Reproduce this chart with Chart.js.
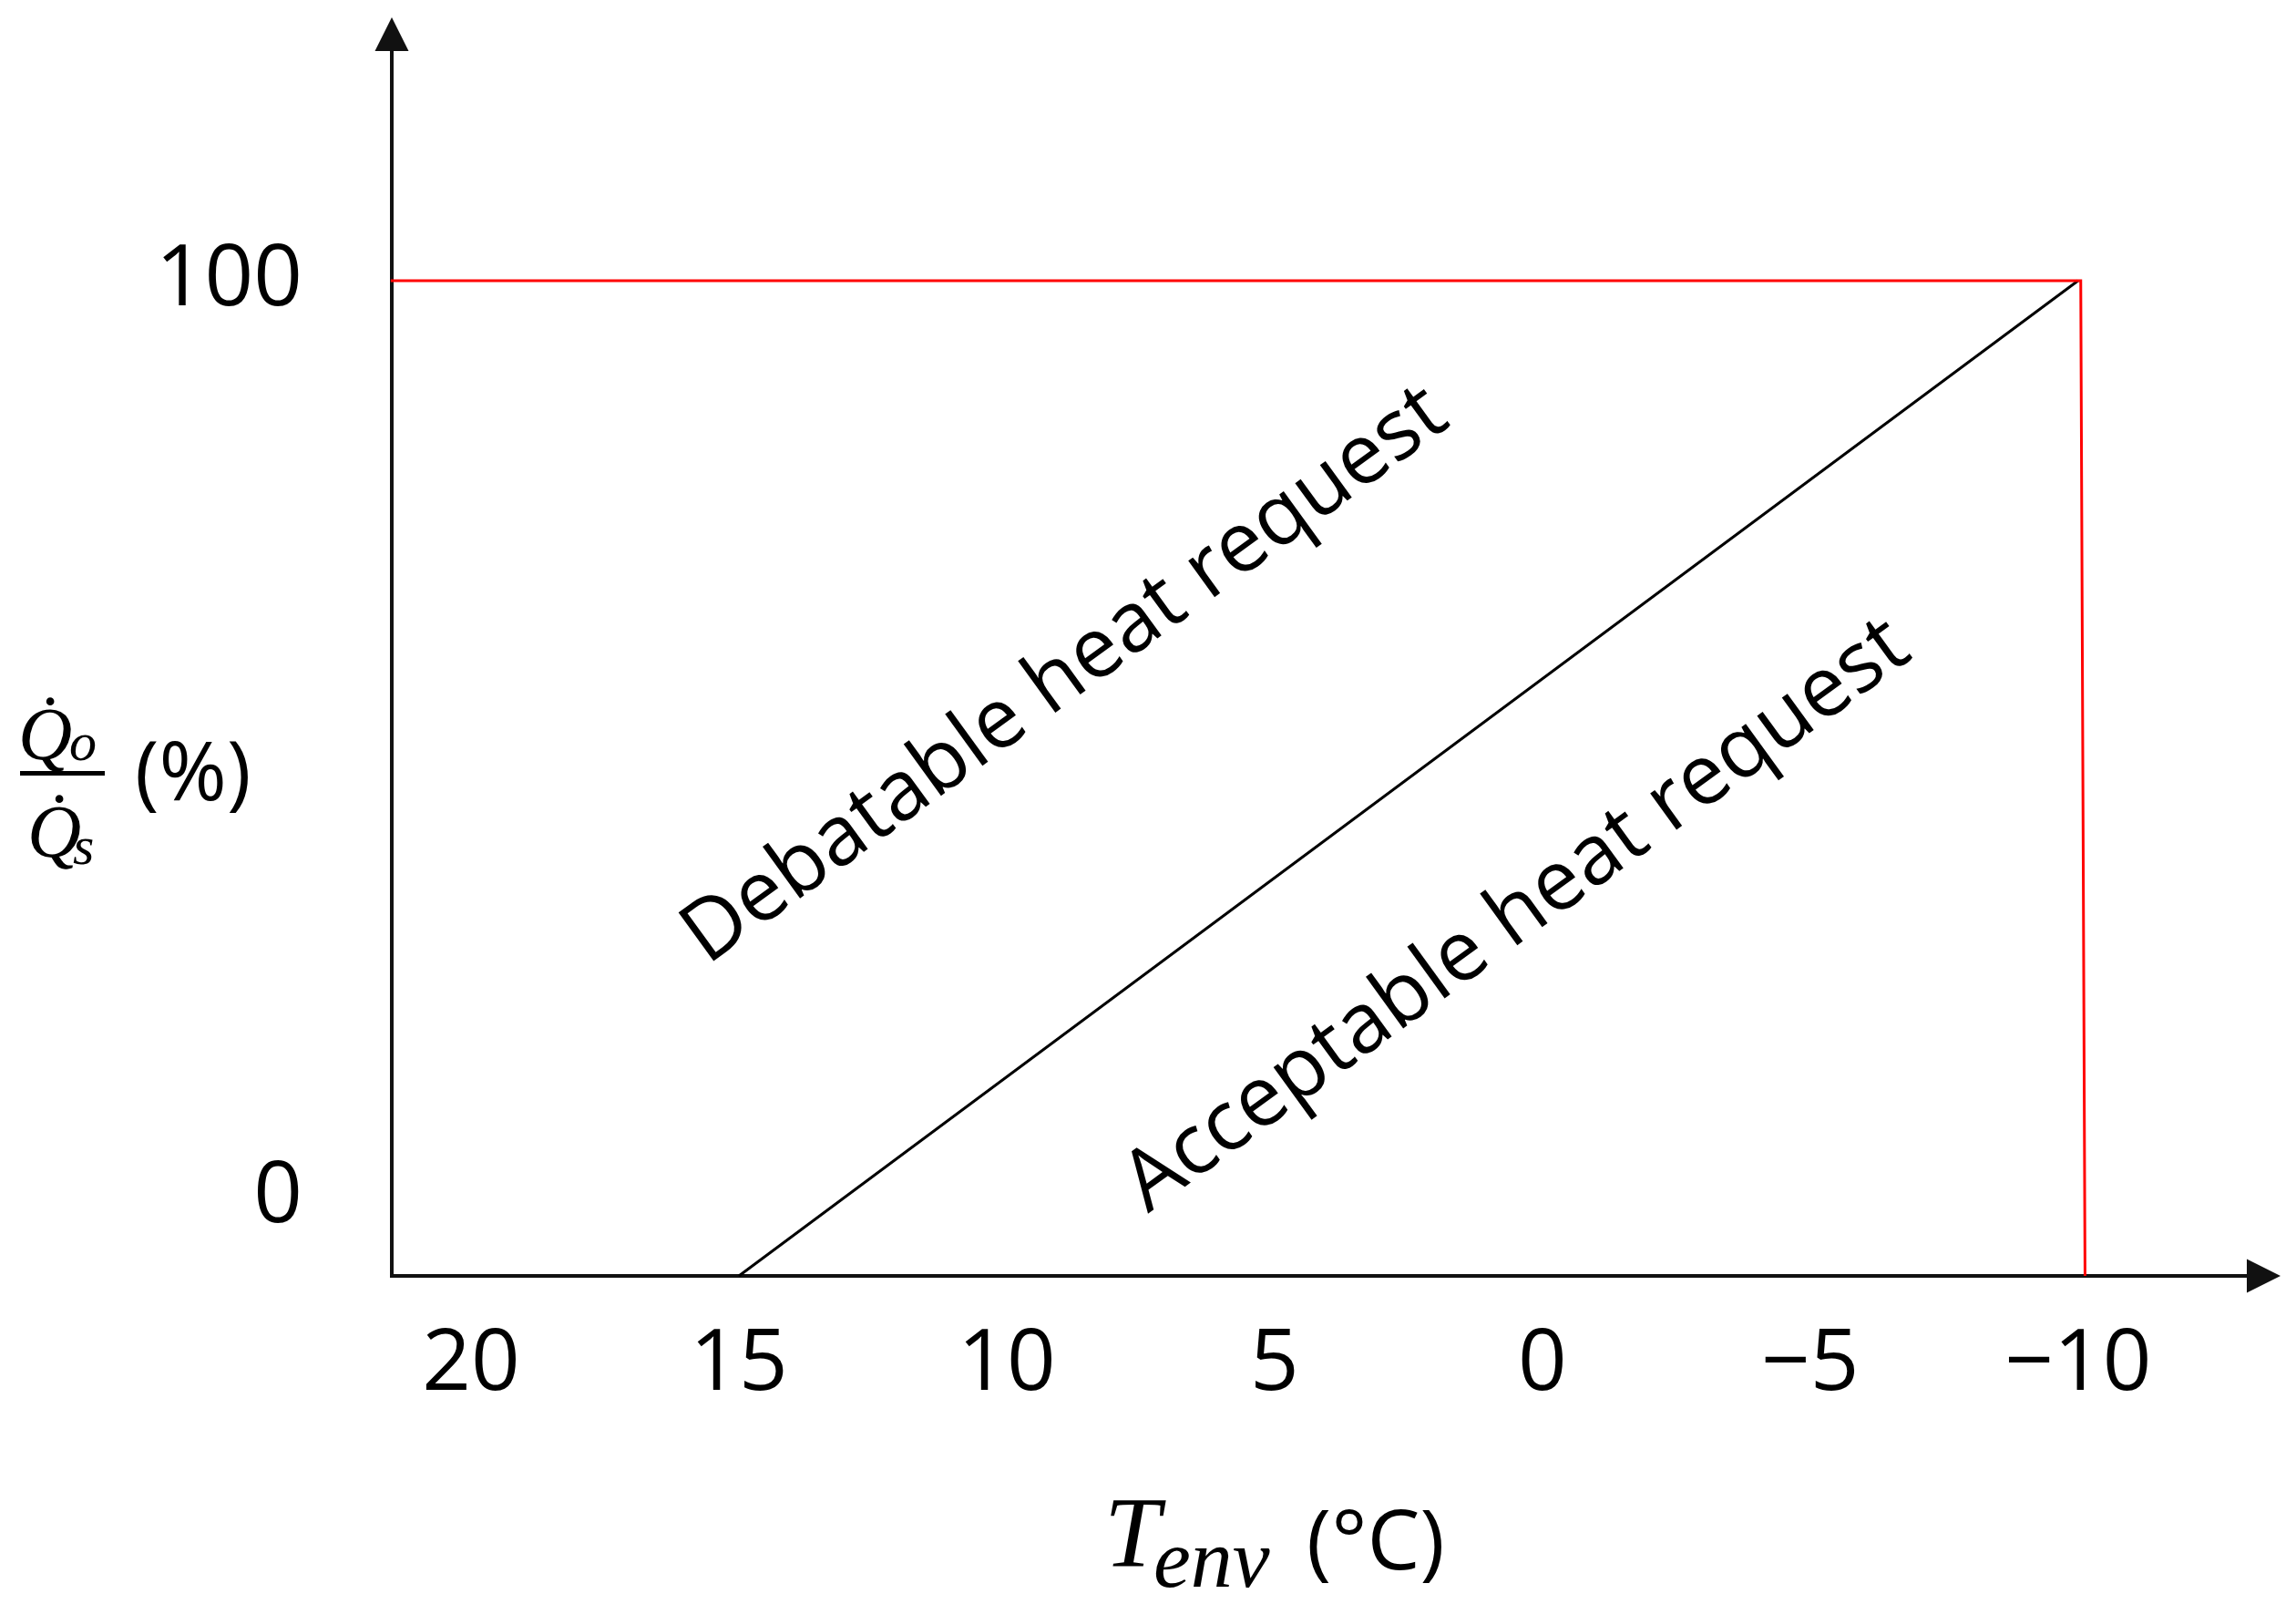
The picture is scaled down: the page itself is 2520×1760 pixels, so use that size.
<!DOCTYPE html>
<html>
<head>
<meta charset="utf-8">
<title>Heat request</title>
<script src="https://cdn.jsdelivr.net/npm/chart.js@4.4.1/dist/chart.umd.min.js"></script>
<style>
  html, body { margin: 0; padding: 0; background: #fff; }
  canvas { display: block; }
</style>
</head>
<body>
<canvas id="myChart" width="2520" height="1760" style="width:2520px;height:1760px"></canvas>
<script>
// values
var tempTicks = [20, 15, 10, 5, 0, -5, -10];      // T_env (°C)
var ratioTicks = [0, 100];                         // Qo/Qs (%)
var diagonalT = [15, -10];                         // black line
var diagonalQ = [-8.55, 100];
var limitT = [21.5, -10.05, -10.13];               // red line
var limitQ = [100, 100, -8.55];
var regionNames = ["Debatable heat request", "Acceptable heat request"];

function main(){
    new Chart('myChart', {
        type: 'line',
        data: {
            datasets: [
                {
                    label: "limit",
                    data: toPoints(limitT, limitQ),
                    borderColor: "#ff0000",
                    borderWidth: 3,
                    pointRadius: 0,
                    tension: 0,
                    clip: false
                },
                {
                    label: "acceptable",
                    data: toPoints(diagonalT, diagonalQ),
                    borderColor: "#000000",
                    borderWidth: 3,
                    pointRadius: 0,
                    tension: 0,
                    clip: false
                }
            ]
        },
        options: {
            responsive: false,
            devicePixelRatio: 1,
            animation: false,
            layout: {
                padding: { top: 56, right: 54, left: 0, bottom: 0 }
            },
            plugins: {
                legend: { display: false },
                tooltip: { enabled: false },
                regionLabels: {
                    font: '92px "Open Sans"',
                    angle: 36,
                    items: [
                        { text: regionNames[0], t: 8.64, q: 54.8 },
                        { text: regionNames[1], t: 0.21, q: 28.6 }
                    ]
                }
            },
            scales: {
                x: {
                    type: 'linear',
                    reverse: true,
                    min: -13.15,
                    max: 21.48,
                    grid: { display: false, drawTicks: false },
                    border: { display: true, color: '#111', width: 4 },
                    afterBuildTicks: function(scale){
                        scale.ticks = tempTicks.map(function(v){ return { value: v }; });
                    },
                    afterFit: function(scale){
                        scale.height = 360;
                        scale.paddingLeft = 0;
                        scale.paddingRight = 0;
                    },
                    ticks: {
                        padding: 42,
                        color: '#000',
                        maxRotation: 0,
                        font: { family: 'Open Sans', size: 94 },
                        callback: function(value){
                            return value < 0 ? '\u2212' + Math.abs(value) : '' + value;
                        }
                    }
                },
                y: {
                    type: 'linear',
                    min: -8.55,
                    max: 125.05,
                    grid: { display: false, drawTicks: false },
                    border: { display: true, color: '#111', width: 4 },
                    afterBuildTicks: function(scale){
                        scale.ticks = ratioTicks.map(function(v){ return { value: v }; });
                    },
                    afterFit: function(scale){
                        scale.width = 430;
                        scale.paddingTop = 0;
                        scale.paddingBottom = 0;
                    },
                    ticks: {
                        padding: 98,
                        color: '#000',
                        font: { family: 'Open Sans', size: 94 }
                    }
                }
            }
        },
        plugins: [axisArrows, regionLabels, axisTitles]
    });
}

function toPoints(xs, ys){
    return xs.map(function(x, i){ return { x: x, y: ys[i] }; });
}

// arrow heads at the ends of both axes
var axisArrows = {
    id: 'axisArrows',
    afterDraw: function(chart){
        var ctx = chart.ctx, a = chart.chartArea;
        ctx.save();
        ctx.fillStyle = '#111';
        ctx.beginPath();
        ctx.moveTo(a.left, a.top - 37);
        ctx.lineTo(a.left - 18.5, a.top);
        ctx.lineTo(a.left + 18.5, a.top);
        ctx.closePath();
        ctx.fill();
        ctx.beginPath();
        ctx.moveTo(a.right + 37, a.bottom);
        ctx.lineTo(a.right, a.bottom - 18.5);
        ctx.lineTo(a.right, a.bottom + 18.5);
        ctx.closePath();
        ctx.fill();
        ctx.restore();
    }
};

// slanted texts inside the plot
var regionLabels = {
    id: 'regionLabels',
    afterDatasetsDraw: function(chart, args, opts){
        var ctx = chart.ctx, sx = chart.scales.x, sy = chart.scales.y;
        ctx.save();
        ctx.font = opts.font;
        ctx.fillStyle = '#000';
        ctx.textAlign = 'center';
        ctx.textBaseline = 'alphabetic';
        opts.items.forEach(function(it){
            ctx.save();
            ctx.translate(sx.getPixelForValue(it.t), sy.getPixelForValue(it.q));
            ctx.rotate(-opts.angle * Math.PI / 180);
            ctx.fillText(it.text, 0, 0);
            ctx.restore();
        });
        ctx.restore();
    }
};

// axis titles with math (fraction, subscripts)
var axisTitles = {
    id: 'axisTitles',
    afterDraw: function(chart){
        var ctx = chart.ctx;
        ctx.save();
        ctx.fillStyle = '#000';
        ctx.textAlign = 'left';
        ctx.textBaseline = 'alphabetic';

        // y title: Qo / Qs (%)
        ctx.font = 'italic 82px "Liberation Serif"';
        ctx.fillText('Q\u0307', 20, 833);
        ctx.fillText('Q\u0307', 30, 940);
        ctx.font = 'italic 60px "Liberation Serif"';
        ctx.fillText('o', 76, 834);
        ctx.fillText('s', 80, 948);
        ctx.fillRect(22, 846, 93, 5);
        ctx.font = '90px "Open Sans"';
        ctx.fillText('(%)', 148, 878);

        // x title: T_env (°C)
        ctx.font = 'italic 110px "Liberation Serif"';
        ctx.fillText('T', 1212, 1719);
        ctx.font = 'italic 92px "Liberation Serif"';
        ctx.fillText('env', 1266, 1741);
        ctx.font = '92px "Open Sans"';
        ctx.fillText('(\u00b0C)', 1434, 1722);
        ctx.restore();
    }
};

main();
</script>
</body>
</html>
